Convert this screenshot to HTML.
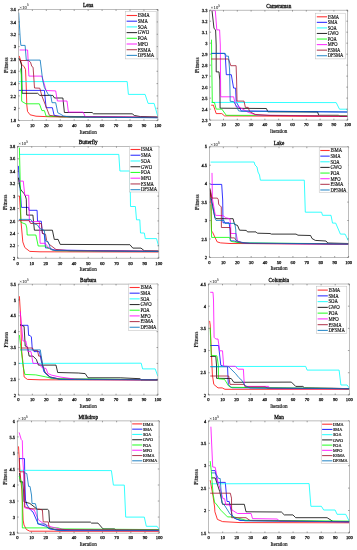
<!DOCTYPE html>
<html><head><meta charset="utf-8"><style>
html,body{margin:0;padding:0;background:#fff;width:357px;height:550px;overflow:hidden}
svg{display:block;filter:blur(0.4px)}
text{font-family:"Liberation Serif",serif;fill:#111;stroke:#111;stroke-width:0.15px}
.tx{font-size:4.75px;stroke-width:0.25px}
.ts{font-size:3.3px}
.ex{fill:#444;stroke:#444;stroke-width:0.1px}
.tt{font-size:5.2px;stroke-width:0.28px}
.tl{font-size:4.6px}
.tl2{font-size:5.1px}
.ax{fill:none;stroke:#999;stroke-width:0.65}
.tk{fill:none;stroke:#444;stroke-width:0.5}
.lg{fill:#fff;stroke:#bbb;stroke-width:0.5}
.ln{fill:none;stroke-width:0.8;stroke-linejoin:round}
.ll{stroke-width:1.1;stroke-opacity:0.8}
</style></head><body>
<svg width="357" height="550" viewBox="0 0 357 550">
<g><clipPath id="c_Lena"><rect x="18.40" y="9.60" width="139.50" height="111.00"/></clipPath><g clip-path="url(#c_Lena)"><polyline points="19.20,55.90 20.50,60.10 21.70,64.30 24.20,66.80 25.50,69.40 26.20,85.00 26.80,105.00 27.50,111.40 30.10,114.80 36.00,116.20 50.00,116.80 158.00,117.30" stroke="#ff0000" class="ln"/><polyline points="18.50,90.40 44.40,90.40 46.10,107.70 52.40,107.70 54.10,115.30 60.00,116.30 158.00,117.60" stroke="#0000ff" class="ln"/><polyline points="18.50,81.60 127.20,81.60 128.40,94.40 145.10,94.40 148.10,103.40 154.10,103.40 157.60,115.80 158.00,116.00" stroke="#00ffff" class="ln"/><polyline points="18.50,58.00 20.00,60.00 21.50,65.00 22.10,93.30 37.70,93.30 39.80,95.40 52.80,95.40 54.50,98.00 62.90,98.00 64.40,112.50 92.20,112.50 93.50,113.80 132.20,113.80 134.50,115.50 140.50,116.60 158.00,117.00" stroke="#000000" class="ln"/><polyline points="20.50,68.50 21.30,75.00 21.70,101.30 25.90,103.80 39.40,103.80 41.90,110.60 44.40,110.60 46.10,116.10 60.00,116.80 158.00,117.50" stroke="#00ff00" class="ln"/><polyline points="19.60,50.00 27.60,50.00 28.90,76.10 41.90,76.10 43.10,80.00 46.10,90.50 55.70,90.90 57.40,101.00 67.00,101.00 68.40,112.10 83.10,112.10 85.20,116.60 158.00,117.40" stroke="#ff00ff" class="ln"/><polyline points="19.50,60.50 28.40,60.50 30.50,62.20 31.80,66.40 33.10,67.30 34.30,85.00 34.50,88.00 39.80,88.20 41.90,96.00 45.20,104.40 49.40,115.30 60.00,116.80 158.00,117.50" stroke="#a2142f" class="ln"/><polyline points="18.70,12.60 20.30,40.00 20.90,45.40 25.10,45.40 26.30,60.10 40.20,60.10 42.70,80.30 44.40,87.60 48.60,95.10 50.70,95.10 52.00,102.70 55.70,102.70 57.80,112.80 61.20,114.50 63.70,116.10 70.00,117.00 158.00,117.80" stroke="#0072bd" class="ln"/></g><rect x="18.40" y="9.60" width="139.50" height="111.00" class="ax"/><text transform="translate(18.40 126.90) scale(1 1.0)" class="tx" text-anchor="middle" style="font-size:4.6px">0</text><text transform="translate(32.35 126.90) scale(1 1.0)" class="tx" text-anchor="middle" style="font-size:4.6px">10</text><text transform="translate(46.30 126.90) scale(1 1.0)" class="tx" text-anchor="middle" style="font-size:4.6px">20</text><text transform="translate(60.25 126.90) scale(1 1.0)" class="tx" text-anchor="middle" style="font-size:4.6px">30</text><text transform="translate(74.20 126.90) scale(1 1.0)" class="tx" text-anchor="middle" style="font-size:4.6px">40</text><text transform="translate(88.15 126.90) scale(1 1.0)" class="tx" text-anchor="middle" style="font-size:4.6px">50</text><text transform="translate(102.10 126.90) scale(1 1.0)" class="tx" text-anchor="middle" style="font-size:4.6px">60</text><text transform="translate(116.05 126.90) scale(1 1.0)" class="tx" text-anchor="middle" style="font-size:4.6px">70</text><text transform="translate(130.00 126.90) scale(1 1.0)" class="tx" text-anchor="middle" style="font-size:4.6px">80</text><text transform="translate(143.95 126.90) scale(1 1.0)" class="tx" text-anchor="middle" style="font-size:4.6px">90</text><text transform="translate(157.90 126.90) scale(1 1.0)" class="tx" text-anchor="middle" style="font-size:4.6px">100</text><text transform="translate(16.10 122.25) scale(1 1.08)" class="tx" text-anchor="end" style="font-size:4.5px">1.8</text><text transform="translate(16.10 109.92) scale(1 1.08)" class="tx" text-anchor="end" style="font-size:4.5px">2</text><text transform="translate(16.10 97.58) scale(1 1.08)" class="tx" text-anchor="end" style="font-size:4.5px">2.2</text><text transform="translate(16.10 85.25) scale(1 1.08)" class="tx" text-anchor="end" style="font-size:4.5px">2.4</text><text transform="translate(16.10 72.92) scale(1 1.08)" class="tx" text-anchor="end" style="font-size:4.5px">2.6</text><text transform="translate(16.10 60.58) scale(1 1.08)" class="tx" text-anchor="end" style="font-size:4.5px">2.8</text><text transform="translate(16.10 48.25) scale(1 1.08)" class="tx" text-anchor="end" style="font-size:4.5px">3</text><text transform="translate(16.10 35.92) scale(1 1.08)" class="tx" text-anchor="end" style="font-size:4.5px">3.2</text><text transform="translate(16.10 23.58) scale(1 1.08)" class="tx" text-anchor="end" style="font-size:4.5px">3.4</text><text transform="translate(16.10 11.25) scale(1 1.08)" class="tx" text-anchor="end" style="font-size:4.5px">3.6</text><path d="M18.40 120.60v-1.4M18.40 9.60v1.4M32.35 120.60v-1.4M32.35 9.60v1.4M46.30 120.60v-1.4M46.30 9.60v1.4M60.25 120.60v-1.4M60.25 9.60v1.4M74.20 120.60v-1.4M74.20 9.60v1.4M88.15 120.60v-1.4M88.15 9.60v1.4M102.10 120.60v-1.4M102.10 9.60v1.4M116.05 120.60v-1.4M116.05 9.60v1.4M130.00 120.60v-1.4M130.00 9.60v1.4M143.95 120.60v-1.4M143.95 9.60v1.4M157.90 120.60v-1.4M157.90 9.60v1.4M18.40 120.60h1.4M157.90 120.60h-1.4M18.40 108.27h1.4M157.90 108.27h-1.4M18.40 95.93h1.4M157.90 95.93h-1.4M18.40 83.60h1.4M157.90 83.60h-1.4M18.40 71.27h1.4M157.90 71.27h-1.4M18.40 58.93h1.4M157.90 58.93h-1.4M18.40 46.60h1.4M157.90 46.60h-1.4M18.40 34.27h1.4M157.90 34.27h-1.4M18.40 21.93h1.4M157.90 21.93h-1.4M18.40 9.60h1.4M157.90 9.60h-1.4" class="tk"/><text transform="translate(88.15 7.40) scale(1 1.08)" class="tt" text-anchor="middle">Lena</text><text transform="translate(88.15 133.60) scale(1 1.08)" class="tl2" text-anchor="middle">Iteration</text><text transform="translate(7.80 65.10) rotate(-90) scale(1.08 1)" class="tl2" text-anchor="middle">Fitness</text><text transform="translate(19.40 8.60) scale(1 1.08)" class="tx ex" style="font-size:4.2px">×</text><text transform="translate(22.30 8.60) scale(1 1.08)" class="tx ex" style="font-size:4.6px">10</text><text transform="translate(27.00 6.30) scale(1 1.08)" class="ts ex">5</text><rect x="125.60" y="11.60" width="30.60" height="47.30" class="lg"/><line x1="126.60" x2="137.10" y1="15.50" y2="15.50" stroke="#ff0000" class="ll"/><text transform="translate(137.70 17.35) scale(1 1.14)" class="tl" style="font-size:4.78px">ISMA</text><line x1="126.60" x2="137.10" y1="21.20" y2="21.20" stroke="#0000ff" class="ll"/><text transform="translate(137.70 23.05) scale(1 1.14)" class="tl" style="font-size:4.78px">SMA</text><line x1="126.60" x2="137.10" y1="26.90" y2="26.90" stroke="#00ffff" class="ll"/><text transform="translate(137.70 28.75) scale(1 1.14)" class="tl" style="font-size:4.78px">SOA</text><line x1="126.60" x2="137.10" y1="32.60" y2="32.60" stroke="#000000" class="ll"/><text transform="translate(137.70 34.45) scale(1 1.14)" class="tl" style="font-size:4.78px">GWO</text><line x1="126.60" x2="137.10" y1="38.30" y2="38.30" stroke="#00ff00" class="ll"/><text transform="translate(137.70 40.15) scale(1 1.14)" class="tl" style="font-size:4.78px">POA</text><line x1="126.60" x2="137.10" y1="44.00" y2="44.00" stroke="#ff00ff" class="ll"/><text transform="translate(137.70 45.85) scale(1 1.14)" class="tl" style="font-size:4.78px">MFO</text><line x1="126.60" x2="137.10" y1="49.70" y2="49.70" stroke="#a2142f" class="ll"/><text transform="translate(137.70 51.55) scale(1 1.14)" class="tl" style="font-size:4.78px">ESMA</text><line x1="126.60" x2="137.10" y1="55.40" y2="55.40" stroke="#0072bd" class="ll"/><text transform="translate(137.70 57.25) scale(1 1.14)" class="tl" style="font-size:4.78px">DFSMA</text></g><g><clipPath id="c_Cameraman"><rect x="209.70" y="10.20" width="138.00" height="109.90"/></clipPath><g clip-path="url(#c_Cameraman)"><polyline points="211.20,105.20 213.40,105.20 216.20,113.60 221.80,113.60 224.60,115.90 347.70,116.50" stroke="#ff0000" class="ln"/><polyline points="211.20,53.40 224.60,53.40 225.30,55.60 226.30,74.70 231.30,74.70 233.60,88.10 235.60,88.10 236.20,101.80 241.20,110.90 347.70,112.00" stroke="#0000ff" class="ln"/><polyline points="211.20,102.40 336.20,102.60 339.50,109.20 346.50,109.20 347.70,111.00" stroke="#00ffff" class="ln"/><polyline points="212.00,10.60 214.00,28.50 215.60,29.90 216.20,45.00 216.20,71.90 219.00,71.90 219.80,80.00 220.10,108.20 266.40,108.50 267.80,111.80 317.60,112.00 318.70,115.30 338.40,115.30 340.00,116.40 347.70,116.40" stroke="#000000" class="ln"/><polyline points="211.50,39.70 211.70,60.00 212.30,102.40 214.50,102.60 216.20,109.10 221.80,109.10 226.30,115.30 347.70,115.60" stroke="#00ff00" class="ln"/><polyline points="211.70,10.60 215.30,10.60 216.80,29.90 219.60,29.90 220.30,45.00 220.70,96.80 233.60,96.80 235.80,106.50 239.80,107.40 248.20,112.30 256.60,115.10 347.70,116.20" stroke="#ff00ff" class="ln"/><polyline points="211.20,59.00 228.50,59.00 230.80,65.70 236.10,65.70 236.60,80.00 237.00,101.10 244.00,101.10 245.40,107.40 248.20,107.40 249.60,111.60 255.20,114.40 270.00,115.50 347.70,116.20" stroke="#a2142f" class="ln"/><polyline points="211.20,53.40 225.20,53.40 226.30,56.20 228.50,56.20 229.60,70.00 230.20,101.30 233.50,101.50 236.50,106.00 238.50,110.80 241.00,111.30 347.70,112.00" stroke="#0072bd" class="ln"/></g><rect x="209.70" y="10.20" width="138.00" height="109.90" class="ax"/><text transform="translate(209.70 126.40) scale(1 1.0)" class="tx" text-anchor="middle" style="font-size:4.6px">0</text><text transform="translate(223.50 126.40) scale(1 1.0)" class="tx" text-anchor="middle" style="font-size:4.6px">10</text><text transform="translate(237.30 126.40) scale(1 1.0)" class="tx" text-anchor="middle" style="font-size:4.6px">20</text><text transform="translate(251.10 126.40) scale(1 1.0)" class="tx" text-anchor="middle" style="font-size:4.6px">30</text><text transform="translate(264.90 126.40) scale(1 1.0)" class="tx" text-anchor="middle" style="font-size:4.6px">40</text><text transform="translate(278.70 126.40) scale(1 1.0)" class="tx" text-anchor="middle" style="font-size:4.6px">50</text><text transform="translate(292.50 126.40) scale(1 1.0)" class="tx" text-anchor="middle" style="font-size:4.6px">60</text><text transform="translate(306.30 126.40) scale(1 1.0)" class="tx" text-anchor="middle" style="font-size:4.6px">70</text><text transform="translate(320.10 126.40) scale(1 1.0)" class="tx" text-anchor="middle" style="font-size:4.6px">80</text><text transform="translate(333.90 126.40) scale(1 1.0)" class="tx" text-anchor="middle" style="font-size:4.6px">90</text><text transform="translate(347.70 126.40) scale(1 1.0)" class="tx" text-anchor="middle" style="font-size:4.6px">100</text><text transform="translate(207.40 121.75) scale(1 1.08)" class="tx" text-anchor="end" style="font-size:4.5px">2.3</text><text transform="translate(207.40 110.76) scale(1 1.08)" class="tx" text-anchor="end" style="font-size:4.5px">2.4</text><text transform="translate(207.40 99.77) scale(1 1.08)" class="tx" text-anchor="end" style="font-size:4.5px">2.5</text><text transform="translate(207.40 88.78) scale(1 1.08)" class="tx" text-anchor="end" style="font-size:4.5px">2.6</text><text transform="translate(207.40 77.79) scale(1 1.08)" class="tx" text-anchor="end" style="font-size:4.5px">2.7</text><text transform="translate(207.40 66.80) scale(1 1.08)" class="tx" text-anchor="end" style="font-size:4.5px">2.8</text><text transform="translate(207.40 55.81) scale(1 1.08)" class="tx" text-anchor="end" style="font-size:4.5px">2.9</text><text transform="translate(207.40 44.82) scale(1 1.08)" class="tx" text-anchor="end" style="font-size:4.5px">3</text><text transform="translate(207.40 33.83) scale(1 1.08)" class="tx" text-anchor="end" style="font-size:4.5px">3.1</text><text transform="translate(207.40 22.84) scale(1 1.08)" class="tx" text-anchor="end" style="font-size:4.5px">3.2</text><text transform="translate(207.40 11.85) scale(1 1.08)" class="tx" text-anchor="end" style="font-size:4.5px">3.3</text><path d="M209.70 120.10v-1.4M209.70 10.20v1.4M223.50 120.10v-1.4M223.50 10.20v1.4M237.30 120.10v-1.4M237.30 10.20v1.4M251.10 120.10v-1.4M251.10 10.20v1.4M264.90 120.10v-1.4M264.90 10.20v1.4M278.70 120.10v-1.4M278.70 10.20v1.4M292.50 120.10v-1.4M292.50 10.20v1.4M306.30 120.10v-1.4M306.30 10.20v1.4M320.10 120.10v-1.4M320.10 10.20v1.4M333.90 120.10v-1.4M333.90 10.20v1.4M347.70 120.10v-1.4M347.70 10.20v1.4M209.70 120.10h1.4M347.70 120.10h-1.4M209.70 109.11h1.4M347.70 109.11h-1.4M209.70 98.12h1.4M347.70 98.12h-1.4M209.70 87.13h1.4M347.70 87.13h-1.4M209.70 76.14h1.4M347.70 76.14h-1.4M209.70 65.15h1.4M347.70 65.15h-1.4M209.70 54.16h1.4M347.70 54.16h-1.4M209.70 43.17h1.4M347.70 43.17h-1.4M209.70 32.18h1.4M347.70 32.18h-1.4M209.70 21.19h1.4M347.70 21.19h-1.4M209.70 10.20h1.4M347.70 10.20h-1.4" class="tk"/><text transform="translate(278.70 8.00) scale(1 1.08)" class="tt" text-anchor="middle">Cameraman</text><text transform="translate(278.70 133.10) scale(1 1.08)" class="tl2" text-anchor="middle">Iteration</text><text transform="translate(199.10 65.15) rotate(-90) scale(1.08 1)" class="tl2" text-anchor="middle">Fitness</text><text transform="translate(210.70 9.20) scale(1 1.08)" class="tx ex" style="font-size:4.2px">×</text><text transform="translate(213.60 9.20) scale(1 1.08)" class="tx ex" style="font-size:4.6px">10</text><text transform="translate(218.30 6.90) scale(1 1.08)" class="ts ex">5</text><rect x="315.50" y="13.20" width="29.80" height="45.70" class="lg"/><line x1="316.80" x2="327.10" y1="16.80" y2="16.80" stroke="#ff0000" class="ll"/><text transform="translate(327.80 18.55) scale(1 1.14)" class="tl" style="font-size:4.52px">ISMA</text><line x1="316.80" x2="327.10" y1="22.36" y2="22.36" stroke="#0000ff" class="ll"/><text transform="translate(327.80 24.11) scale(1 1.14)" class="tl" style="font-size:4.52px">SMA</text><line x1="316.80" x2="327.10" y1="27.92" y2="27.92" stroke="#00ffff" class="ll"/><text transform="translate(327.80 29.67) scale(1 1.14)" class="tl" style="font-size:4.52px">SOA</text><line x1="316.80" x2="327.10" y1="33.48" y2="33.48" stroke="#000000" class="ll"/><text transform="translate(327.80 35.23) scale(1 1.14)" class="tl" style="font-size:4.52px">GWO</text><line x1="316.80" x2="327.10" y1="39.04" y2="39.04" stroke="#00ff00" class="ll"/><text transform="translate(327.80 40.79) scale(1 1.14)" class="tl" style="font-size:4.52px">POA</text><line x1="316.80" x2="327.10" y1="44.60" y2="44.60" stroke="#ff00ff" class="ll"/><text transform="translate(327.80 46.35) scale(1 1.14)" class="tl" style="font-size:4.52px">MFO</text><line x1="316.80" x2="327.10" y1="50.16" y2="50.16" stroke="#a2142f" class="ll"/><text transform="translate(327.80 51.91) scale(1 1.14)" class="tl" style="font-size:4.52px">ESMA</text><line x1="316.80" x2="327.10" y1="55.72" y2="55.72" stroke="#0072bd" class="ll"/><text transform="translate(327.80 57.47) scale(1 1.14)" class="tl" style="font-size:4.52px">DFSMA</text></g><g><clipPath id="c_Butterfly"><rect x="17.60" y="146.40" width="141.20" height="111.80"/></clipPath><g clip-path="url(#c_Butterfly)"><polyline points="18.90,195.80 19.50,196.00 20.90,220.30 22.80,241.90 24.80,247.50 26.00,248.50 29.80,251.40 40.00,251.80 158.80,252.00" stroke="#ff0000" class="ln"/><polyline points="18.40,165.90 19.40,182.50 20.40,191.40 21.40,207.00 21.50,207.40 28.60,207.40 29.00,210.30 37.10,210.30 37.50,221.20 41.30,221.20 42.40,233.40 44.30,234.20 45.50,247.90 48.90,247.90 52.00,250.00 158.80,251.50" stroke="#0000ff" class="ln"/><polyline points="19.60,154.40 118.80,154.40 119.90,171.00 130.00,171.00 130.50,206.50 135.40,206.50 136.50,219.80 139.80,219.80 140.50,233.00 144.30,233.00 145.30,238.60 156.50,238.60 158.70,246.30" stroke="#00ffff" class="ln"/><polyline points="18.40,177.60 19.40,184.50 20.90,189.90 23.80,193.30 25.30,195.80 26.30,199.20 26.70,215.10 32.90,215.10 34.40,230.20 52.40,230.20 54.30,239.40 58.10,239.40 60.20,244.40 129.90,244.70 132.80,248.10 141.00,248.10 144.30,250.80 158.80,251.00" stroke="#000000" class="ln"/><polyline points="19.40,147.70 20.40,190.00 20.90,222.30 25.80,224.20 26.80,228.00 27.20,235.00 35.90,235.00 38.20,246.00 45.70,246.00 47.00,247.70 55.00,250.70 158.80,251.30" stroke="#00ff00" class="ln"/><polyline points="18.90,181.10 23.30,181.10 24.80,195.30 28.70,195.30 29.40,221.60 39.40,221.60 40.10,243.30 45.10,243.30 48.90,248.00 55.00,250.30 158.80,251.20" stroke="#ff00ff" class="ln"/><polyline points="18.90,220.60 29.10,220.60 30.60,223.50 41.30,223.50 42.40,233.40 45.50,234.20 46.60,240.30 48.90,244.10 52.00,246.40 56.00,249.50 70.00,250.80 158.80,251.30" stroke="#a2142f" class="ln"/><polyline points="18.90,219.40 30.60,219.40 33.60,223.50 37.50,225.00 39.40,228.00 42.00,229.60 44.30,230.30 45.50,241.00 48.20,241.80 50.50,248.70 55.00,250.50 158.80,251.60" stroke="#0072bd" class="ln"/></g><rect x="17.60" y="146.40" width="141.20" height="111.80" class="ax"/><text transform="translate(17.60 264.50) scale(1 1.0)" class="tx" text-anchor="middle" style="font-size:4.6px">0</text><text transform="translate(31.72 264.50) scale(1 1.0)" class="tx" text-anchor="middle" style="font-size:4.6px">10</text><text transform="translate(45.84 264.50) scale(1 1.0)" class="tx" text-anchor="middle" style="font-size:4.6px">20</text><text transform="translate(59.96 264.50) scale(1 1.0)" class="tx" text-anchor="middle" style="font-size:4.6px">30</text><text transform="translate(74.08 264.50) scale(1 1.0)" class="tx" text-anchor="middle" style="font-size:4.6px">40</text><text transform="translate(88.20 264.50) scale(1 1.0)" class="tx" text-anchor="middle" style="font-size:4.6px">50</text><text transform="translate(102.32 264.50) scale(1 1.0)" class="tx" text-anchor="middle" style="font-size:4.6px">60</text><text transform="translate(116.44 264.50) scale(1 1.0)" class="tx" text-anchor="middle" style="font-size:4.6px">70</text><text transform="translate(130.56 264.50) scale(1 1.0)" class="tx" text-anchor="middle" style="font-size:4.6px">80</text><text transform="translate(144.68 264.50) scale(1 1.0)" class="tx" text-anchor="middle" style="font-size:4.6px">90</text><text transform="translate(158.80 264.50) scale(1 1.0)" class="tx" text-anchor="middle" style="font-size:4.6px">100</text><text transform="translate(15.30 259.85) scale(1 1.08)" class="tx" text-anchor="end" style="font-size:4.5px">2</text><text transform="translate(15.30 247.43) scale(1 1.08)" class="tx" text-anchor="end" style="font-size:4.5px">2.2</text><text transform="translate(15.30 235.01) scale(1 1.08)" class="tx" text-anchor="end" style="font-size:4.5px">2.4</text><text transform="translate(15.30 222.58) scale(1 1.08)" class="tx" text-anchor="end" style="font-size:4.5px">2.6</text><text transform="translate(15.30 210.16) scale(1 1.08)" class="tx" text-anchor="end" style="font-size:4.5px">2.8</text><text transform="translate(15.30 197.74) scale(1 1.08)" class="tx" text-anchor="end" style="font-size:4.5px">3</text><text transform="translate(15.30 185.32) scale(1 1.08)" class="tx" text-anchor="end" style="font-size:4.5px">3.2</text><text transform="translate(15.30 172.89) scale(1 1.08)" class="tx" text-anchor="end" style="font-size:4.5px">3.4</text><text transform="translate(15.30 160.47) scale(1 1.08)" class="tx" text-anchor="end" style="font-size:4.5px">3.6</text><text transform="translate(15.30 148.05) scale(1 1.08)" class="tx" text-anchor="end" style="font-size:4.5px">3.8</text><path d="M17.60 258.20v-1.4M17.60 146.40v1.4M31.72 258.20v-1.4M31.72 146.40v1.4M45.84 258.20v-1.4M45.84 146.40v1.4M59.96 258.20v-1.4M59.96 146.40v1.4M74.08 258.20v-1.4M74.08 146.40v1.4M88.20 258.20v-1.4M88.20 146.40v1.4M102.32 258.20v-1.4M102.32 146.40v1.4M116.44 258.20v-1.4M116.44 146.40v1.4M130.56 258.20v-1.4M130.56 146.40v1.4M144.68 258.20v-1.4M144.68 146.40v1.4M158.80 258.20v-1.4M158.80 146.40v1.4M17.60 258.20h1.4M158.80 258.20h-1.4M17.60 245.78h1.4M158.80 245.78h-1.4M17.60 233.36h1.4M158.80 233.36h-1.4M17.60 220.93h1.4M158.80 220.93h-1.4M17.60 208.51h1.4M158.80 208.51h-1.4M17.60 196.09h1.4M158.80 196.09h-1.4M17.60 183.67h1.4M158.80 183.67h-1.4M17.60 171.24h1.4M158.80 171.24h-1.4M17.60 158.82h1.4M158.80 158.82h-1.4M17.60 146.40h1.4M158.80 146.40h-1.4" class="tk"/><text transform="translate(88.20 144.20) scale(1 1.08)" class="tt" text-anchor="middle">Butterfly</text><text transform="translate(88.20 271.20) scale(1 1.08)" class="tl2" text-anchor="middle">Iteration</text><text transform="translate(7.00 202.30) rotate(-90) scale(1.08 1)" class="tl2" text-anchor="middle">Fitness</text><text transform="translate(18.60 145.40) scale(1 1.08)" class="tx ex" style="font-size:4.2px">×</text><text transform="translate(21.50 145.40) scale(1 1.08)" class="tx ex" style="font-size:4.6px">10</text><text transform="translate(26.20 143.10) scale(1 1.08)" class="ts ex">5</text><rect x="129.60" y="146.20" width="29.30" height="45.80" class="lg"/><line x1="130.50" x2="140.40" y1="149.50" y2="149.50" stroke="#ff0000" class="ll"/><text transform="translate(141.00 151.31) scale(1 1.14)" class="tl" style="font-size:4.68px">ISMA</text><line x1="130.50" x2="140.40" y1="155.24" y2="155.24" stroke="#0000ff" class="ll"/><text transform="translate(141.00 157.05) scale(1 1.14)" class="tl" style="font-size:4.68px">SMA</text><line x1="130.50" x2="140.40" y1="160.98" y2="160.98" stroke="#00ffff" class="ll"/><text transform="translate(141.00 162.79) scale(1 1.14)" class="tl" style="font-size:4.68px">SOA</text><line x1="130.50" x2="140.40" y1="166.72" y2="166.72" stroke="#000000" class="ll"/><text transform="translate(141.00 168.53) scale(1 1.14)" class="tl" style="font-size:4.68px">GWO</text><line x1="130.50" x2="140.40" y1="172.46" y2="172.46" stroke="#00ff00" class="ll"/><text transform="translate(141.00 174.27) scale(1 1.14)" class="tl" style="font-size:4.68px">POA</text><line x1="130.50" x2="140.40" y1="178.20" y2="178.20" stroke="#ff00ff" class="ll"/><text transform="translate(141.00 180.01) scale(1 1.14)" class="tl" style="font-size:4.68px">MFO</text><line x1="130.50" x2="140.40" y1="183.94" y2="183.94" stroke="#a2142f" class="ll"/><text transform="translate(141.00 185.75) scale(1 1.14)" class="tl" style="font-size:4.68px">ESMA</text><line x1="130.50" x2="140.40" y1="189.68" y2="189.68" stroke="#0072bd" class="ll"/><text transform="translate(141.00 191.49) scale(1 1.14)" class="tl" style="font-size:4.68px">DFSMA</text></g><g><clipPath id="c_Lake"><rect x="209.40" y="146.80" width="139.20" height="110.60"/></clipPath><g clip-path="url(#c_Lake)"><polyline points="210.40,192.70 211.20,210.00 211.50,231.00 212.70,232.50 215.00,237.40 217.20,241.90 220.60,242.90 230.00,243.50 348.60,244.00" stroke="#ff0000" class="ln"/><polyline points="210.40,184.40 221.70,184.40 222.70,200.00 223.00,222.80 229.10,222.80 230.10,230.00 230.30,240.90 234.10,240.90 238.00,242.50 250.00,243.30 348.60,244.00" stroke="#0000ff" class="ln"/><polyline points="210.60,162.10 254.10,162.00 255.00,165.00 257.00,167.00 258.00,172.00 259.50,175.00 260.40,180.20 304.30,180.20 305.30,212.20 321.60,212.20 322.50,215.30 331.00,215.30 332.50,223.10 335.70,223.10 340.40,234.10 345.10,234.10 348.20,240.40 348.60,241.00" stroke="#00ffff" class="ln"/><polyline points="209.90,188.30 211.40,198.60 214.80,217.30 216.00,218.70 233.10,218.70 234.50,224.40 237.50,225.40 239.50,230.20 246.30,230.40 247.50,231.90 256.00,231.90 257.30,233.20 270.00,233.50 271.40,234.10 296.00,234.10 298.00,235.20 310.60,235.50 312.00,238.50 315.30,240.40 326.00,241.00 327.80,243.00 348.60,243.50" stroke="#000000" class="ln"/><polyline points="210.90,204.50 211.30,225.00 211.60,237.40 229.40,237.40 231.40,241.50 240.00,242.80 250.00,243.00 348.60,243.80" stroke="#00ff00" class="ln"/><polyline points="212.00,172.90 212.40,199.00 215.30,215.30 223.40,215.70 225.40,217.70 229.80,218.70 230.60,224.00 230.90,233.50 236.20,233.50 237.50,240.90 242.00,242.80 250.00,243.50 348.60,244.00" stroke="#ff00ff" class="ln"/><polyline points="210.40,189.80 211.90,198.10 217.30,198.10 218.30,199.60 218.70,204.50 220.20,205.70 221.30,207.00 221.40,227.50 230.10,227.50 230.80,237.90 234.50,237.90 236.30,240.90 242.00,242.80 250.00,243.50 348.60,244.00" stroke="#a2142f" class="ln"/><polyline points="210.40,197.60 215.30,219.20 216.00,220.40 224.00,220.40 225.00,223.40 234.80,223.40 235.80,230.00 236.00,240.20 238.50,241.50 245.00,243.00 348.60,244.00" stroke="#0072bd" class="ln"/></g><rect x="209.40" y="146.80" width="139.20" height="110.60" class="ax"/><text transform="translate(209.40 263.70) scale(1 1.0)" class="tx" text-anchor="middle" style="font-size:4.6px">0</text><text transform="translate(223.32 263.70) scale(1 1.0)" class="tx" text-anchor="middle" style="font-size:4.6px">10</text><text transform="translate(237.24 263.70) scale(1 1.0)" class="tx" text-anchor="middle" style="font-size:4.6px">20</text><text transform="translate(251.16 263.70) scale(1 1.0)" class="tx" text-anchor="middle" style="font-size:4.6px">30</text><text transform="translate(265.08 263.70) scale(1 1.0)" class="tx" text-anchor="middle" style="font-size:4.6px">40</text><text transform="translate(279.00 263.70) scale(1 1.0)" class="tx" text-anchor="middle" style="font-size:4.6px">50</text><text transform="translate(292.92 263.70) scale(1 1.0)" class="tx" text-anchor="middle" style="font-size:4.6px">60</text><text transform="translate(306.84 263.70) scale(1 1.0)" class="tx" text-anchor="middle" style="font-size:4.6px">70</text><text transform="translate(320.76 263.70) scale(1 1.0)" class="tx" text-anchor="middle" style="font-size:4.6px">80</text><text transform="translate(334.68 263.70) scale(1 1.0)" class="tx" text-anchor="middle" style="font-size:4.6px">90</text><text transform="translate(348.60 263.70) scale(1 1.0)" class="tx" text-anchor="middle" style="font-size:4.6px">100</text><text transform="translate(207.10 259.05) scale(1 1.08)" class="tx" text-anchor="end" style="font-size:4.5px">2</text><text transform="translate(207.10 240.62) scale(1 1.08)" class="tx" text-anchor="end" style="font-size:4.5px">2.5</text><text transform="translate(207.10 222.18) scale(1 1.08)" class="tx" text-anchor="end" style="font-size:4.5px">3</text><text transform="translate(207.10 203.75) scale(1 1.08)" class="tx" text-anchor="end" style="font-size:4.5px">3.5</text><text transform="translate(207.10 185.32) scale(1 1.08)" class="tx" text-anchor="end" style="font-size:4.5px">4</text><text transform="translate(207.10 166.88) scale(1 1.08)" class="tx" text-anchor="end" style="font-size:4.5px">4.5</text><text transform="translate(207.10 148.45) scale(1 1.08)" class="tx" text-anchor="end" style="font-size:4.5px">5</text><path d="M209.40 257.40v-1.4M209.40 146.80v1.4M223.32 257.40v-1.4M223.32 146.80v1.4M237.24 257.40v-1.4M237.24 146.80v1.4M251.16 257.40v-1.4M251.16 146.80v1.4M265.08 257.40v-1.4M265.08 146.80v1.4M279.00 257.40v-1.4M279.00 146.80v1.4M292.92 257.40v-1.4M292.92 146.80v1.4M306.84 257.40v-1.4M306.84 146.80v1.4M320.76 257.40v-1.4M320.76 146.80v1.4M334.68 257.40v-1.4M334.68 146.80v1.4M348.60 257.40v-1.4M348.60 146.80v1.4M209.40 257.40h1.4M348.60 257.40h-1.4M209.40 238.97h1.4M348.60 238.97h-1.4M209.40 220.53h1.4M348.60 220.53h-1.4M209.40 202.10h1.4M348.60 202.10h-1.4M209.40 183.67h1.4M348.60 183.67h-1.4M209.40 165.23h1.4M348.60 165.23h-1.4M209.40 146.80h1.4M348.60 146.80h-1.4" class="tk"/><text transform="translate(279.00 144.60) scale(1 1.08)" class="tt" text-anchor="middle">Lake</text><text transform="translate(279.00 270.40) scale(1 1.08)" class="tl2" text-anchor="middle">Iteration</text><text transform="translate(198.80 202.10) rotate(-90) scale(1.08 1)" class="tl2" text-anchor="middle">Fitness</text><text transform="translate(210.40 145.80) scale(1 1.08)" class="tx ex" style="font-size:4.2px">×</text><text transform="translate(213.30 145.80) scale(1 1.08)" class="tx ex" style="font-size:4.6px">10</text><text transform="translate(218.00 143.50) scale(1 1.08)" class="ts ex">5</text><rect x="319.20" y="147.20" width="29.00" height="45.40" class="lg"/><line x1="320.30" x2="329.70" y1="150.50" y2="150.50" stroke="#ff0000" class="ll"/><text transform="translate(330.40 152.31) scale(1 1.14)" class="tl" style="font-size:4.68px">ISMA</text><line x1="320.30" x2="329.70" y1="156.14" y2="156.14" stroke="#0000ff" class="ll"/><text transform="translate(330.40 157.95) scale(1 1.14)" class="tl" style="font-size:4.68px">SMA</text><line x1="320.30" x2="329.70" y1="161.78" y2="161.78" stroke="#00ffff" class="ll"/><text transform="translate(330.40 163.59) scale(1 1.14)" class="tl" style="font-size:4.68px">SOA</text><line x1="320.30" x2="329.70" y1="167.42" y2="167.42" stroke="#000000" class="ll"/><text transform="translate(330.40 169.23) scale(1 1.14)" class="tl" style="font-size:4.68px">GWO</text><line x1="320.30" x2="329.70" y1="173.06" y2="173.06" stroke="#00ff00" class="ll"/><text transform="translate(330.40 174.87) scale(1 1.14)" class="tl" style="font-size:4.68px">POA</text><line x1="320.30" x2="329.70" y1="178.70" y2="178.70" stroke="#ff00ff" class="ll"/><text transform="translate(330.40 180.51) scale(1 1.14)" class="tl" style="font-size:4.68px">MFO</text><line x1="320.30" x2="329.70" y1="184.34" y2="184.34" stroke="#a2142f" class="ll"/><text transform="translate(330.40 186.15) scale(1 1.14)" class="tl" style="font-size:4.68px">ESMA</text><line x1="320.30" x2="329.70" y1="189.98" y2="189.98" stroke="#0072bd" class="ll"/><text transform="translate(330.40 191.79) scale(1 1.14)" class="tl" style="font-size:4.68px">DFSMA</text></g><g><clipPath id="c_Barbara"><rect x="18.40" y="284.10" width="139.50" height="111.00"/></clipPath><g clip-path="url(#c_Barbara)"><polyline points="19.40,296.20 20.70,318.00 21.60,350.00 23.50,368.00 24.10,376.90 27.40,379.40 40.00,379.80 157.90,380.00" stroke="#ff0000" class="ln"/><polyline points="20.20,325.30 28.00,325.30 28.60,335.40 30.00,335.40 31.40,337.00 32.30,349.40 34.00,351.60 39.50,351.60 41.50,362.00 42.50,366.00 44.00,372.00 50.00,377.00 60.00,379.00 157.90,379.80" stroke="#0000ff" class="ln"/><polyline points="19.00,363.40 141.20,363.20 142.60,368.90 155.20,368.90 157.90,376.40" stroke="#00ffff" class="ln"/><polyline points="20.20,324.70 24.10,326.40 25.20,346.00 27.50,347.00 29.10,356.10 33.00,356.10 36.40,359.50 38.40,365.10 56.00,365.10 57.70,372.50 78.20,373.00 85.20,373.60 88.00,377.80 120.20,377.80 140.00,378.70 141.20,379.80 157.90,379.80" stroke="#000000" class="ln"/><polyline points="19.40,335.00 19.60,337.00 21.80,355.00 23.20,366.80 24.90,374.40 35.80,374.90 45.90,376.90 52.60,378.60 157.90,379.80" stroke="#00ff00" class="ln"/><polyline points="20.20,311.40 23.00,341.00 25.80,341.00 28.00,351.60 31.00,351.60 33.00,363.40 38.90,363.40 41.70,367.30 46.00,368.50 47.90,373.50 51.80,375.20 60.00,377.00 75.00,379.10 90.00,379.60 157.90,379.80" stroke="#ff00ff" class="ln"/><polyline points="20.70,348.00 32.50,348.00 33.60,350.50 37.50,350.50 38.70,356.10 40.90,356.10 42.60,365.00 45.00,372.00 50.00,377.00 60.00,379.30 157.90,379.80" stroke="#a2142f" class="ln"/><polyline points="20.20,349.90 40.30,349.90 42.60,365.00 45.00,373.00 50.00,377.50 60.00,379.50 157.90,379.80" stroke="#0072bd" class="ln"/></g><rect x="18.40" y="284.10" width="139.50" height="111.00" class="ax"/><text transform="translate(18.40 401.40) scale(1 1.0)" class="tx" text-anchor="middle" style="font-size:4.6px">0</text><text transform="translate(32.35 401.40) scale(1 1.0)" class="tx" text-anchor="middle" style="font-size:4.6px">10</text><text transform="translate(46.30 401.40) scale(1 1.0)" class="tx" text-anchor="middle" style="font-size:4.6px">20</text><text transform="translate(60.25 401.40) scale(1 1.0)" class="tx" text-anchor="middle" style="font-size:4.6px">30</text><text transform="translate(74.20 401.40) scale(1 1.0)" class="tx" text-anchor="middle" style="font-size:4.6px">40</text><text transform="translate(88.15 401.40) scale(1 1.0)" class="tx" text-anchor="middle" style="font-size:4.6px">50</text><text transform="translate(102.10 401.40) scale(1 1.0)" class="tx" text-anchor="middle" style="font-size:4.6px">60</text><text transform="translate(116.05 401.40) scale(1 1.0)" class="tx" text-anchor="middle" style="font-size:4.6px">70</text><text transform="translate(130.00 401.40) scale(1 1.0)" class="tx" text-anchor="middle" style="font-size:4.6px">80</text><text transform="translate(143.95 401.40) scale(1 1.0)" class="tx" text-anchor="middle" style="font-size:4.6px">90</text><text transform="translate(157.90 401.40) scale(1 1.0)" class="tx" text-anchor="middle" style="font-size:4.6px">100</text><text transform="translate(16.10 396.75) scale(1 1.08)" class="tx" text-anchor="end" style="font-size:4.5px">2</text><text transform="translate(16.10 380.89) scale(1 1.08)" class="tx" text-anchor="end" style="font-size:4.5px">2.5</text><text transform="translate(16.10 365.04) scale(1 1.08)" class="tx" text-anchor="end" style="font-size:4.5px">3</text><text transform="translate(16.10 349.18) scale(1 1.08)" class="tx" text-anchor="end" style="font-size:4.5px">3.5</text><text transform="translate(16.10 333.32) scale(1 1.08)" class="tx" text-anchor="end" style="font-size:4.5px">4</text><text transform="translate(16.10 317.46) scale(1 1.08)" class="tx" text-anchor="end" style="font-size:4.5px">4.5</text><text transform="translate(16.10 301.61) scale(1 1.08)" class="tx" text-anchor="end" style="font-size:4.5px">5</text><text transform="translate(16.10 285.75) scale(1 1.08)" class="tx" text-anchor="end" style="font-size:4.5px">5.5</text><path d="M18.40 395.10v-1.4M18.40 284.10v1.4M32.35 395.10v-1.4M32.35 284.10v1.4M46.30 395.10v-1.4M46.30 284.10v1.4M60.25 395.10v-1.4M60.25 284.10v1.4M74.20 395.10v-1.4M74.20 284.10v1.4M88.15 395.10v-1.4M88.15 284.10v1.4M102.10 395.10v-1.4M102.10 284.10v1.4M116.05 395.10v-1.4M116.05 284.10v1.4M130.00 395.10v-1.4M130.00 284.10v1.4M143.95 395.10v-1.4M143.95 284.10v1.4M157.90 395.10v-1.4M157.90 284.10v1.4M18.40 395.10h1.4M157.90 395.10h-1.4M18.40 379.24h1.4M157.90 379.24h-1.4M18.40 363.39h1.4M157.90 363.39h-1.4M18.40 347.53h1.4M157.90 347.53h-1.4M18.40 331.67h1.4M157.90 331.67h-1.4M18.40 315.81h1.4M157.90 315.81h-1.4M18.40 299.96h1.4M157.90 299.96h-1.4M18.40 284.10h1.4M157.90 284.10h-1.4" class="tk"/><text transform="translate(88.15 281.90) scale(1 1.08)" class="tt" text-anchor="middle">Barbara</text><text transform="translate(88.15 408.10) scale(1 1.08)" class="tl2" text-anchor="middle">Iteration</text><text transform="translate(7.80 339.60) rotate(-90) scale(1.08 1)" class="tl2" text-anchor="middle">Fitness</text><text transform="translate(19.40 283.10) scale(1 1.08)" class="tx ex" style="font-size:4.2px">×</text><text transform="translate(22.30 283.10) scale(1 1.08)" class="tx ex" style="font-size:4.6px">10</text><text transform="translate(27.00 280.80) scale(1 1.08)" class="ts ex">5</text><rect x="128.50" y="284.10" width="29.00" height="46.50" class="lg"/><line x1="129.60" x2="139.70" y1="287.50" y2="287.50" stroke="#ff0000" class="ll"/><text transform="translate(140.40 289.31) scale(1 1.14)" class="tl" style="font-size:4.68px">ISMA</text><line x1="129.60" x2="139.70" y1="293.18" y2="293.18" stroke="#0000ff" class="ll"/><text transform="translate(140.40 294.99) scale(1 1.14)" class="tl" style="font-size:4.68px">SMA</text><line x1="129.60" x2="139.70" y1="298.86" y2="298.86" stroke="#00ffff" class="ll"/><text transform="translate(140.40 300.67) scale(1 1.14)" class="tl" style="font-size:4.68px">SOA</text><line x1="129.60" x2="139.70" y1="304.54" y2="304.54" stroke="#000000" class="ll"/><text transform="translate(140.40 306.35) scale(1 1.14)" class="tl" style="font-size:4.68px">GWO</text><line x1="129.60" x2="139.70" y1="310.22" y2="310.22" stroke="#00ff00" class="ll"/><text transform="translate(140.40 312.03) scale(1 1.14)" class="tl" style="font-size:4.68px">POA</text><line x1="129.60" x2="139.70" y1="315.90" y2="315.90" stroke="#ff00ff" class="ll"/><text transform="translate(140.40 317.71) scale(1 1.14)" class="tl" style="font-size:4.68px">MFO</text><line x1="129.60" x2="139.70" y1="321.58" y2="321.58" stroke="#a2142f" class="ll"/><text transform="translate(140.40 323.39) scale(1 1.14)" class="tl" style="font-size:4.68px">ESMA</text><line x1="129.60" x2="139.70" y1="327.26" y2="327.26" stroke="#0072bd" class="ll"/><text transform="translate(140.40 329.07) scale(1 1.14)" class="tl" style="font-size:4.68px">DFSMA</text></g><g><clipPath id="c_Columbia"><rect x="208.40" y="284.00" width="140.90" height="110.90"/></clipPath><g clip-path="url(#c_Columbia)"><polyline points="209.60,320.90 210.20,325.00 212.40,375.00 213.80,384.40 218.00,387.90 222.20,387.90 225.00,389.30 349.30,389.30" stroke="#ff0000" class="ln"/><polyline points="210.20,345.50 218.60,345.50 220.80,365.30 223.70,366.30 227.50,366.30 228.30,384.40 230.40,386.90 232.00,387.70 349.30,388.70" stroke="#0000ff" class="ln"/><polyline points="210.20,366.50 305.70,366.40 307.10,370.10 339.10,370.10 340.90,385.00 347.10,385.00 349.30,388.00" stroke="#00ffff" class="ln"/><polyline points="210.20,356.40 215.80,356.40 216.50,365.00 216.60,378.30 231.20,378.50 233.80,382.30 291.40,382.10 295.70,386.40 302.90,386.40 304.50,387.90 332.00,388.20 349.30,388.70" stroke="#000000" class="ln"/><polyline points="210.20,327.60 211.20,355.30 216.90,355.80 218.30,365.00 218.50,378.80 224.50,379.30 228.70,386.10 230.80,387.30 349.30,388.70" stroke="#00ff00" class="ln"/><polyline points="210.20,292.30 213.00,292.30 213.50,300.00 214.10,337.30 215.80,339.00 218.00,339.00 219.70,350.80 222.50,350.80 223.70,366.30 235.40,366.30 238.00,369.20 243.40,369.20 244.30,385.20 246.00,386.40 268.60,386.40 270.50,388.70 349.30,388.70" stroke="#ff00ff" class="ln"/><polyline points="210.30,376.00 228.70,376.00 230.00,384.40 244.30,384.40 245.10,386.90 265.00,386.90 268.00,388.20 349.30,388.70" stroke="#a2142f" class="ln"/><polyline points="210.30,366.80 228.70,366.80 235.40,373.40 238.80,377.60 242.00,380.50 244.70,385.20 246.00,386.00 250.00,388.00 349.30,388.70" stroke="#0072bd" class="ln"/></g><rect x="208.40" y="284.00" width="140.90" height="110.90" class="ax"/><text transform="translate(208.40 401.20) scale(1 1.0)" class="tx" text-anchor="middle" style="font-size:4.6px">0</text><text transform="translate(222.49 401.20) scale(1 1.0)" class="tx" text-anchor="middle" style="font-size:4.6px">10</text><text transform="translate(236.58 401.20) scale(1 1.0)" class="tx" text-anchor="middle" style="font-size:4.6px">20</text><text transform="translate(250.67 401.20) scale(1 1.0)" class="tx" text-anchor="middle" style="font-size:4.6px">30</text><text transform="translate(264.76 401.20) scale(1 1.0)" class="tx" text-anchor="middle" style="font-size:4.6px">40</text><text transform="translate(278.85 401.20) scale(1 1.0)" class="tx" text-anchor="middle" style="font-size:4.6px">50</text><text transform="translate(292.94 401.20) scale(1 1.0)" class="tx" text-anchor="middle" style="font-size:4.6px">60</text><text transform="translate(307.03 401.20) scale(1 1.0)" class="tx" text-anchor="middle" style="font-size:4.6px">70</text><text transform="translate(321.12 401.20) scale(1 1.0)" class="tx" text-anchor="middle" style="font-size:4.6px">80</text><text transform="translate(335.21 401.20) scale(1 1.0)" class="tx" text-anchor="middle" style="font-size:4.6px">90</text><text transform="translate(349.30 401.20) scale(1 1.0)" class="tx" text-anchor="middle" style="font-size:4.6px">100</text><text transform="translate(206.10 396.55) scale(1 1.08)" class="tx" text-anchor="end" style="font-size:4.5px">2</text><text transform="translate(206.10 374.37) scale(1 1.08)" class="tx" text-anchor="end" style="font-size:4.5px">2.5</text><text transform="translate(206.10 352.19) scale(1 1.08)" class="tx" text-anchor="end" style="font-size:4.5px">3</text><text transform="translate(206.10 330.01) scale(1 1.08)" class="tx" text-anchor="end" style="font-size:4.5px">3.5</text><text transform="translate(206.10 307.83) scale(1 1.08)" class="tx" text-anchor="end" style="font-size:4.5px">4</text><text transform="translate(206.10 285.65) scale(1 1.08)" class="tx" text-anchor="end" style="font-size:4.5px">4.5</text><path d="M208.40 394.90v-1.4M208.40 284.00v1.4M222.49 394.90v-1.4M222.49 284.00v1.4M236.58 394.90v-1.4M236.58 284.00v1.4M250.67 394.90v-1.4M250.67 284.00v1.4M264.76 394.90v-1.4M264.76 284.00v1.4M278.85 394.90v-1.4M278.85 284.00v1.4M292.94 394.90v-1.4M292.94 284.00v1.4M307.03 394.90v-1.4M307.03 284.00v1.4M321.12 394.90v-1.4M321.12 284.00v1.4M335.21 394.90v-1.4M335.21 284.00v1.4M349.30 394.90v-1.4M349.30 284.00v1.4M208.40 394.90h1.4M349.30 394.90h-1.4M208.40 372.72h1.4M349.30 372.72h-1.4M208.40 350.54h1.4M349.30 350.54h-1.4M208.40 328.36h1.4M349.30 328.36h-1.4M208.40 306.18h1.4M349.30 306.18h-1.4M208.40 284.00h1.4M349.30 284.00h-1.4" class="tk"/><text transform="translate(278.85 281.80) scale(1 1.08)" class="tt" text-anchor="middle">Columbia</text><text transform="translate(278.85 407.90) scale(1 1.08)" class="tl2" text-anchor="middle">Iteration</text><text transform="translate(197.80 339.45) rotate(-90) scale(1.08 1)" class="tl2" text-anchor="middle">Fitness</text><text transform="translate(209.40 283.00) scale(1 1.08)" class="tx ex" style="font-size:4.2px">×</text><text transform="translate(212.30 283.00) scale(1 1.08)" class="tx ex" style="font-size:4.6px">10</text><text transform="translate(217.00 280.70) scale(1 1.08)" class="ts ex">5</text><rect x="316.60" y="286.20" width="30.20" height="47.10" class="lg"/><line x1="317.60" x2="327.80" y1="290.10" y2="290.10" stroke="#ff0000" class="ll"/><text transform="translate(328.40 291.95) scale(1 1.14)" class="tl" style="font-size:4.78px">ISMA</text><line x1="317.60" x2="327.80" y1="295.86" y2="295.86" stroke="#0000ff" class="ll"/><text transform="translate(328.40 297.71) scale(1 1.14)" class="tl" style="font-size:4.78px">SMA</text><line x1="317.60" x2="327.80" y1="301.62" y2="301.62" stroke="#00ffff" class="ll"/><text transform="translate(328.40 303.47) scale(1 1.14)" class="tl" style="font-size:4.78px">SOA</text><line x1="317.60" x2="327.80" y1="307.38" y2="307.38" stroke="#000000" class="ll"/><text transform="translate(328.40 309.23) scale(1 1.14)" class="tl" style="font-size:4.78px">GWO</text><line x1="317.60" x2="327.80" y1="313.14" y2="313.14" stroke="#00ff00" class="ll"/><text transform="translate(328.40 314.99) scale(1 1.14)" class="tl" style="font-size:4.78px">POA</text><line x1="317.60" x2="327.80" y1="318.90" y2="318.90" stroke="#ff00ff" class="ll"/><text transform="translate(328.40 320.75) scale(1 1.14)" class="tl" style="font-size:4.78px">MFO</text><line x1="317.60" x2="327.80" y1="324.66" y2="324.66" stroke="#a2142f" class="ll"/><text transform="translate(328.40 326.51) scale(1 1.14)" class="tl" style="font-size:4.78px">ESMA</text><line x1="317.60" x2="327.80" y1="330.42" y2="330.42" stroke="#0072bd" class="ll"/><text transform="translate(328.40 332.27) scale(1 1.14)" class="tl" style="font-size:4.78px">DFSMA</text></g><g><clipPath id="c_Milkdrop"><rect x="17.30" y="420.90" width="141.90" height="112.20"/></clipPath><g clip-path="url(#c_Milkdrop)"><polyline points="18.50,446.40 20.00,471.80 20.90,480.90 21.80,490.00 22.60,505.00 23.10,520.00 24.00,525.00 26.40,529.50 29.80,531.20 159.20,531.30" stroke="#ff0000" class="ln"/><polyline points="19.10,458.60 24.50,458.60 24.80,480.00 25.50,500.00 27.00,505.00 30.50,510.00 33.00,512.00 37.00,521.20 38.40,524.00 45.40,526.10 49.60,528.90 60.80,530.60 159.20,530.60" stroke="#0000ff" class="ln"/><polyline points="19.20,470.30 111.40,470.60 113.40,485.10 124.30,485.10 125.70,517.10 144.30,517.10 146.30,526.30 157.10,526.30 159.20,529.40" stroke="#00ffff" class="ln"/><polyline points="19.60,473.00 20.00,481.80 22.70,481.80 23.50,490.00 24.00,501.80 29.80,503.40 37.40,509.30 47.50,509.30 48.80,510.50 49.50,522.10 90.40,522.10 91.50,523.10 98.00,523.10 103.00,528.90 114.40,528.90 116.50,530.20 159.20,530.20" stroke="#000000" class="ln"/><polyline points="19.10,476.40 21.50,482.00 22.20,490.00 22.30,527.90 23.00,527.90 58.00,527.90 62.00,528.90 159.20,529.60" stroke="#00ff00" class="ln"/><polyline points="19.10,432.40 21.30,439.70 22.30,440.70 22.80,460.00 23.80,475.00 24.20,500.00 24.50,507.60 27.00,508.50 30.00,509.00 34.20,510.00 38.40,519.80 44.00,524.00 51.00,526.80 59.40,528.90 72.00,530.30 159.20,530.40" stroke="#ff00ff" class="ln"/><polyline points="19.40,458.60 19.40,471.80 24.10,471.80 24.50,490.00 24.80,506.80 30.00,508.50 39.90,509.30 42.40,510.00 43.20,521.90 48.30,521.90 49.10,527.80 55.00,529.50 159.20,530.00" stroke="#a2142f" class="ln"/><polyline points="24.50,472.70 26.80,473.60 28.60,486.40 30.00,486.40 31.50,495.00 32.00,503.50 35.40,503.70 37.00,510.00 37.70,524.00 45.40,524.00 48.20,528.20 58.00,530.30 159.20,530.40" stroke="#0072bd" class="ln"/></g><rect x="17.30" y="420.90" width="141.90" height="112.20" class="ax"/><text transform="translate(17.30 539.40) scale(1 1.0)" class="tx" text-anchor="middle" style="font-size:4.6px">0</text><text transform="translate(31.49 539.40) scale(1 1.0)" class="tx" text-anchor="middle" style="font-size:4.6px">10</text><text transform="translate(45.68 539.40) scale(1 1.0)" class="tx" text-anchor="middle" style="font-size:4.6px">20</text><text transform="translate(59.87 539.40) scale(1 1.0)" class="tx" text-anchor="middle" style="font-size:4.6px">30</text><text transform="translate(74.06 539.40) scale(1 1.0)" class="tx" text-anchor="middle" style="font-size:4.6px">40</text><text transform="translate(88.25 539.40) scale(1 1.0)" class="tx" text-anchor="middle" style="font-size:4.6px">50</text><text transform="translate(102.44 539.40) scale(1 1.0)" class="tx" text-anchor="middle" style="font-size:4.6px">60</text><text transform="translate(116.63 539.40) scale(1 1.0)" class="tx" text-anchor="middle" style="font-size:4.6px">70</text><text transform="translate(130.82 539.40) scale(1 1.0)" class="tx" text-anchor="middle" style="font-size:4.6px">80</text><text transform="translate(145.01 539.40) scale(1 1.0)" class="tx" text-anchor="middle" style="font-size:4.6px">90</text><text transform="translate(159.20 539.40) scale(1 1.0)" class="tx" text-anchor="middle" style="font-size:4.6px">100</text><text transform="translate(15.00 534.75) scale(1 1.08)" class="tx" text-anchor="end" style="font-size:4.5px">2.5</text><text transform="translate(15.00 518.72) scale(1 1.08)" class="tx" text-anchor="end" style="font-size:4.5px">3</text><text transform="translate(15.00 502.69) scale(1 1.08)" class="tx" text-anchor="end" style="font-size:4.5px">3.5</text><text transform="translate(15.00 486.66) scale(1 1.08)" class="tx" text-anchor="end" style="font-size:4.5px">4</text><text transform="translate(15.00 470.64) scale(1 1.08)" class="tx" text-anchor="end" style="font-size:4.5px">4.5</text><text transform="translate(15.00 454.61) scale(1 1.08)" class="tx" text-anchor="end" style="font-size:4.5px">5</text><text transform="translate(15.00 438.58) scale(1 1.08)" class="tx" text-anchor="end" style="font-size:4.5px">5.5</text><text transform="translate(15.00 422.55) scale(1 1.08)" class="tx" text-anchor="end" style="font-size:4.5px">6</text><path d="M17.30 533.10v-1.4M17.30 420.90v1.4M31.49 533.10v-1.4M31.49 420.90v1.4M45.68 533.10v-1.4M45.68 420.90v1.4M59.87 533.10v-1.4M59.87 420.90v1.4M74.06 533.10v-1.4M74.06 420.90v1.4M88.25 533.10v-1.4M88.25 420.90v1.4M102.44 533.10v-1.4M102.44 420.90v1.4M116.63 533.10v-1.4M116.63 420.90v1.4M130.82 533.10v-1.4M130.82 420.90v1.4M145.01 533.10v-1.4M145.01 420.90v1.4M159.20 533.10v-1.4M159.20 420.90v1.4M17.30 533.10h1.4M159.20 533.10h-1.4M17.30 517.07h1.4M159.20 517.07h-1.4M17.30 501.04h1.4M159.20 501.04h-1.4M17.30 485.01h1.4M159.20 485.01h-1.4M17.30 468.99h1.4M159.20 468.99h-1.4M17.30 452.96h1.4M159.20 452.96h-1.4M17.30 436.93h1.4M159.20 436.93h-1.4M17.30 420.90h1.4M159.20 420.90h-1.4" class="tk"/><text transform="translate(88.25 418.70) scale(1 1.08)" class="tt" text-anchor="middle">Milkdrop</text><text transform="translate(88.25 546.10) scale(1 1.08)" class="tl2" text-anchor="middle">Iteration</text><text transform="translate(6.70 477.00) rotate(-90) scale(1.08 1)" class="tl2" text-anchor="middle">Fitness</text><text transform="translate(18.30 419.90) scale(1 1.08)" class="tx ex" style="font-size:4.2px">×</text><text transform="translate(21.20 419.90) scale(1 1.08)" class="tx ex" style="font-size:4.6px">10</text><text transform="translate(25.90 417.60) scale(1 1.08)" class="ts ex">5</text><rect x="131.20" y="421.40" width="27.60" height="42.30" class="lg"/><line x1="132.20" x2="142.30" y1="423.90" y2="423.90" stroke="#ff0000" class="ll"/><text transform="translate(143.00 425.50) scale(1 1.14)" class="tl" style="font-size:4.16px">ISMA</text><line x1="132.20" x2="142.30" y1="429.17" y2="429.17" stroke="#0000ff" class="ll"/><text transform="translate(143.00 430.77) scale(1 1.14)" class="tl" style="font-size:4.16px">SMA</text><line x1="132.20" x2="142.30" y1="434.44" y2="434.44" stroke="#00ffff" class="ll"/><text transform="translate(143.00 436.04) scale(1 1.14)" class="tl" style="font-size:4.16px">SOA</text><line x1="132.20" x2="142.30" y1="439.71" y2="439.71" stroke="#000000" class="ll"/><text transform="translate(143.00 441.31) scale(1 1.14)" class="tl" style="font-size:4.16px">GWO</text><line x1="132.20" x2="142.30" y1="444.98" y2="444.98" stroke="#00ff00" class="ll"/><text transform="translate(143.00 446.58) scale(1 1.14)" class="tl" style="font-size:4.16px">POA</text><line x1="132.20" x2="142.30" y1="450.25" y2="450.25" stroke="#ff00ff" class="ll"/><text transform="translate(143.00 451.85) scale(1 1.14)" class="tl" style="font-size:4.16px">MFO</text><line x1="132.20" x2="142.30" y1="455.52" y2="455.52" stroke="#a2142f" class="ll"/><text transform="translate(143.00 457.12) scale(1 1.14)" class="tl" style="font-size:4.16px">ESMA</text><line x1="132.20" x2="142.30" y1="460.79" y2="460.79" stroke="#0072bd" class="ll"/><text transform="translate(143.00 462.39) scale(1 1.14)" class="tl" style="font-size:4.16px">DFSMA</text></g><g><clipPath id="c_Man"><rect x="208.60" y="420.90" width="140.80" height="112.00"/></clipPath><g clip-path="url(#c_Man)"><polyline points="210.20,480.20 213.00,495.90 214.60,507.00 214.90,511.80 217.40,519.40 222.50,521.60 240.00,522.60 349.40,522.80" stroke="#ff0000" class="ln"/><polyline points="211.30,470.60 215.20,470.60 217.40,482.40 225.30,482.40 227.00,501.50 229.20,501.50 232.00,515.00 234.00,518.00 240.00,520.50 349.40,521.80" stroke="#0000ff" class="ln"/><polyline points="210.70,483.80 309.10,483.60 310.90,506.30 321.40,506.30 323.70,510.00 335.10,510.00 337.10,514.30 345.70,514.30 349.40,521.40" stroke="#00ffff" class="ln"/><polyline points="211.30,477.90 215.20,477.90 219.70,491.40 222.50,504.30 244.30,504.30 246.00,511.80 281.40,512.00 284.30,514.90 292.90,514.90 295.70,517.70 327.10,517.70 332.90,521.40 349.40,521.60" stroke="#000000" class="ln"/><polyline points="210.20,461.10 211.30,471.20 213.00,493.60 214.60,502.60 215.80,503.40 220.80,510.20 227.50,516.90 234.30,517.00 246.00,520.30 349.40,521.10" stroke="#00ff00" class="ln"/><polyline points="210.90,426.70 212.70,467.00 215.20,467.30 218.00,482.40 219.20,485.50 223.00,498.70 224.60,498.70 225.80,504.80 230.00,505.00 232.00,510.00 237.60,513.50 251.10,513.50 252.50,518.60 277.10,519.00 280.00,521.40 349.40,521.80" stroke="#ff00ff" class="ln"/><polyline points="210.20,493.20 230.30,493.20 231.50,498.10 231.70,517.70 246.00,517.70 250.00,520.50 349.40,521.80" stroke="#a2142f" class="ln"/><polyline points="211.30,472.90 215.20,472.90 218.60,478.50 220.20,478.50 221.90,502.60 225.00,506.00 230.00,514.00 236.00,519.00 245.00,520.80 349.40,521.80" stroke="#0072bd" class="ln"/></g><rect x="208.60" y="420.90" width="140.80" height="112.00" class="ax"/><text transform="translate(208.60 539.20) scale(1 1.0)" class="tx" text-anchor="middle" style="font-size:4.6px">0</text><text transform="translate(222.68 539.20) scale(1 1.0)" class="tx" text-anchor="middle" style="font-size:4.6px">10</text><text transform="translate(236.76 539.20) scale(1 1.0)" class="tx" text-anchor="middle" style="font-size:4.6px">20</text><text transform="translate(250.84 539.20) scale(1 1.0)" class="tx" text-anchor="middle" style="font-size:4.6px">30</text><text transform="translate(264.92 539.20) scale(1 1.0)" class="tx" text-anchor="middle" style="font-size:4.6px">40</text><text transform="translate(279.00 539.20) scale(1 1.0)" class="tx" text-anchor="middle" style="font-size:4.6px">50</text><text transform="translate(293.08 539.20) scale(1 1.0)" class="tx" text-anchor="middle" style="font-size:4.6px">60</text><text transform="translate(307.16 539.20) scale(1 1.0)" class="tx" text-anchor="middle" style="font-size:4.6px">70</text><text transform="translate(321.24 539.20) scale(1 1.0)" class="tx" text-anchor="middle" style="font-size:4.6px">80</text><text transform="translate(335.32 539.20) scale(1 1.0)" class="tx" text-anchor="middle" style="font-size:4.6px">90</text><text transform="translate(349.40 539.20) scale(1 1.0)" class="tx" text-anchor="middle" style="font-size:4.6px">100</text><text transform="translate(206.30 534.55) scale(1 1.08)" class="tx" text-anchor="end" style="font-size:4.5px">1.5</text><text transform="translate(206.30 512.15) scale(1 1.08)" class="tx" text-anchor="end" style="font-size:4.5px">2</text><text transform="translate(206.30 489.75) scale(1 1.08)" class="tx" text-anchor="end" style="font-size:4.5px">2.5</text><text transform="translate(206.30 467.35) scale(1 1.08)" class="tx" text-anchor="end" style="font-size:4.5px">3</text><text transform="translate(206.30 444.95) scale(1 1.08)" class="tx" text-anchor="end" style="font-size:4.5px">3.5</text><text transform="translate(206.30 422.55) scale(1 1.08)" class="tx" text-anchor="end" style="font-size:4.5px">4</text><path d="M208.60 532.90v-1.4M208.60 420.90v1.4M222.68 532.90v-1.4M222.68 420.90v1.4M236.76 532.90v-1.4M236.76 420.90v1.4M250.84 532.90v-1.4M250.84 420.90v1.4M264.92 532.90v-1.4M264.92 420.90v1.4M279.00 532.90v-1.4M279.00 420.90v1.4M293.08 532.90v-1.4M293.08 420.90v1.4M307.16 532.90v-1.4M307.16 420.90v1.4M321.24 532.90v-1.4M321.24 420.90v1.4M335.32 532.90v-1.4M335.32 420.90v1.4M349.40 532.90v-1.4M349.40 420.90v1.4M208.60 532.90h1.4M349.40 532.90h-1.4M208.60 510.50h1.4M349.40 510.50h-1.4M208.60 488.10h1.4M349.40 488.10h-1.4M208.60 465.70h1.4M349.40 465.70h-1.4M208.60 443.30h1.4M349.40 443.30h-1.4M208.60 420.90h1.4M349.40 420.90h-1.4" class="tk"/><text transform="translate(279.00 418.70) scale(1 1.08)" class="tt" text-anchor="middle">Man</text><text transform="translate(279.00 545.90) scale(1 1.08)" class="tl2" text-anchor="middle">Iteration</text><text transform="translate(198.00 476.90) rotate(-90) scale(1.08 1)" class="tl2" text-anchor="middle">Fitness</text><text transform="translate(209.60 419.90) scale(1 1.08)" class="tx ex" style="font-size:4.2px">×</text><text transform="translate(212.50 419.90) scale(1 1.08)" class="tx ex" style="font-size:4.6px">10</text><text transform="translate(217.20 417.60) scale(1 1.08)" class="ts ex">5</text><rect x="321.20" y="421.20" width="28.00" height="42.50" class="lg"/><line x1="322.10" x2="332.40" y1="424.20" y2="424.20" stroke="#ff0000" class="ll"/><text transform="translate(333.00 425.84) scale(1 1.14)" class="tl" style="font-size:4.26px">ISMA</text><line x1="322.10" x2="332.40" y1="429.43" y2="429.43" stroke="#0000ff" class="ll"/><text transform="translate(333.00 431.07) scale(1 1.14)" class="tl" style="font-size:4.26px">SMA</text><line x1="322.10" x2="332.40" y1="434.66" y2="434.66" stroke="#00ffff" class="ll"/><text transform="translate(333.00 436.30) scale(1 1.14)" class="tl" style="font-size:4.26px">SOA</text><line x1="322.10" x2="332.40" y1="439.89" y2="439.89" stroke="#000000" class="ll"/><text transform="translate(333.00 441.53) scale(1 1.14)" class="tl" style="font-size:4.26px">GWO</text><line x1="322.10" x2="332.40" y1="445.12" y2="445.12" stroke="#00ff00" class="ll"/><text transform="translate(333.00 446.76) scale(1 1.14)" class="tl" style="font-size:4.26px">POA</text><line x1="322.10" x2="332.40" y1="450.35" y2="450.35" stroke="#ff00ff" class="ll"/><text transform="translate(333.00 451.99) scale(1 1.14)" class="tl" style="font-size:4.26px">MFO</text><line x1="322.10" x2="332.40" y1="455.58" y2="455.58" stroke="#a2142f" class="ll"/><text transform="translate(333.00 457.22) scale(1 1.14)" class="tl" style="font-size:4.26px">ESMA</text><line x1="322.10" x2="332.40" y1="460.81" y2="460.81" stroke="#0072bd" class="ll"/><text transform="translate(333.00 462.45) scale(1 1.14)" class="tl" style="font-size:4.26px">DFSMA</text></g>
</svg></body></html>
